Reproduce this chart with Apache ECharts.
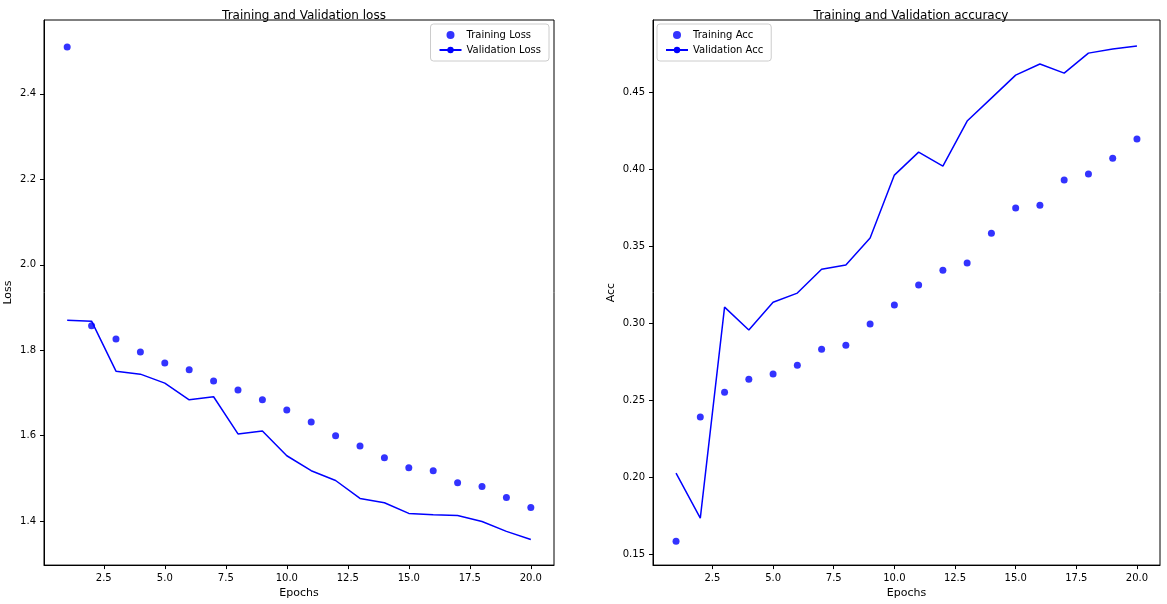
<!DOCTYPE html>
<html><head><meta charset="utf-8">
<script src="https://cdn.jsdelivr.net/npm/echarts@6/dist/echarts.min.js"></script>
<style>html,body{margin:0;padding:0;background:#fff}#c{width:1167px;height:604px}</style>
</head><body><div id="c"></div>
<script>
const epochs = [1,2,3,4,5,6,7,8,9,10,11,12,13,14,15,16,17,18,19,20];
const trainLoss = [2.51,1.857,1.826,1.796,1.770,1.754,1.728,1.707,1.684,1.660,1.632,1.600,1.576,1.548,1.525,1.518,1.490,1.481,1.455,1.432];
const valLoss = [1.870,1.868,1.751,1.744,1.723,1.684,1.691,1.604,1.611,1.553,1.518,1.495,1.453,1.443,1.418,1.415,1.413,1.399,1.376,1.357];
const trainAcc = [0.1584,0.239,0.2552,0.2636,0.2669,0.2727,0.2831,0.2857,0.2994,0.3117,0.3247,0.3344,0.339,0.3584,0.3747,0.3766,0.3929,0.3968,0.4071,0.4195];
const valAcc = [0.2026,0.1734,0.3104,0.2955,0.3136,0.3195,0.335,0.3377,0.3552,0.3961,0.411,0.4019,0.4312,0.4461,0.461,0.4682,0.4623,0.4753,0.4779,0.4799];
const xTicks = [2.5,5,7.5,10,12.5,15,17.5,20];
const lossTicks = [1.4,1.6,1.8,2.0,2.2,2.4];
const accTicks = [0.15,0.20,0.25,0.30,0.35,0.40,0.45];

const F = 'DejaVu Sans';
const pair = (xs, ys) => xs.map((x,i)=>[x, ys[i]]);
function xAxis(gi){
  return {type:'value', gridIndex:gi, min:0.05, max:20.95, name:'Epochs', nameLocation:'middle', nameGap:20,
    nameTextStyle:{fontFamily:F,fontSize:11,color:'#000'},
    axisLine:{lineStyle:{color:'#000'}}, splitLine:{show:false},
    axisTick:{customValues:xTicks, length:4, lineStyle:{color:'#000'}},
    axisLabel:{customValues:xTicks, formatter:v=>v.toFixed(1), fontFamily:F, fontSize:10, color:'#000'}};
}
function yAxis(gi, min, max, ticks, dec, name){
  return {type:'value', gridIndex:gi, min:min, max:max, name:name, nameLocation:'middle', nameGap:dec===1?30:36,
    nameTextStyle:{fontFamily:F,fontSize:11,color:'#000'},
    axisLine:{show:true,lineStyle:{color:'#000'}}, splitLine:{show:false},
    axisTick:{show:true,customValues:ticks, length:4, lineStyle:{color:'#000'}},
    axisLabel:{customValues:ticks, formatter:v=>v.toFixed(dec), fontFamily:F, fontSize:10, color:'#000'}};
}
const legBase = {orient:'vertical', itemWidth:22, itemHeight:8, itemGap:5, padding:[6,8],
  borderColor:'#ccc', borderWidth:1, borderRadius:3, backgroundColor:'#fff',
  textStyle:{fontFamily:F,fontSize:10,color:'#000'}};
const chart = echarts.init(document.getElementById('c'));
chart.setOption({
  animation:false,
  title:[
    {text:'Training and Validation loss', left:299, top:5, textAlign:'center', textStyle:{fontFamily:F,fontSize:12,fontWeight:'normal',color:'#000'}},
    {text:'Training and Validation accuracy', left:906, top:5, textAlign:'center', textStyle:{fontFamily:F,fontSize:12,fontWeight:'normal',color:'#000'}}
  ],
  legend:[
    Object.assign({}, legBase, {data:['Training Loss','Validation Loss'], right:1167-549, top:24}),
    Object.assign({}, legBase, {data:['Training Acc','Validation Acc'], left:657, top:24})
  ],
  grid:[
    {left:44, top:20, width:510, height:546, show:true, borderColor:'#000', borderWidth:1},
    {left:653, top:20, width:507, height:546, show:true, borderColor:'#000', borderWidth:1}
  ],
  xAxis:[xAxis(0), xAxis(1)],
  yAxis:[yAxis(0,1.297,2.573,lossTicks,1,'Loss'), yAxis(1,0.1429,0.4968,accTicks,2,'Acc')],
  series:[
    {name:'Training Loss', type:'scatter', xAxisIndex:0, yAxisIndex:0, data:pair(epochs,trainLoss), symbolSize:7, itemStyle:{color:'#0000ff'}},
    {name:'Validation Loss', type:'line', xAxisIndex:0, yAxisIndex:0, data:pair(epochs,valLoss), symbol:'none', lineStyle:{color:'#0000ff',width:1.5}, itemStyle:{color:'#0000ff'}},
    {name:'Training Acc', type:'scatter', xAxisIndex:1, yAxisIndex:1, data:pair(epochs,trainAcc), symbolSize:7, itemStyle:{color:'#0000ff'}},
    {name:'Validation Acc', type:'line', xAxisIndex:1, yAxisIndex:1, data:pair(epochs,valAcc), symbol:'none', lineStyle:{color:'#0000ff',width:1.5}, itemStyle:{color:'#0000ff'}}
  ]
});
</script></body></html>
